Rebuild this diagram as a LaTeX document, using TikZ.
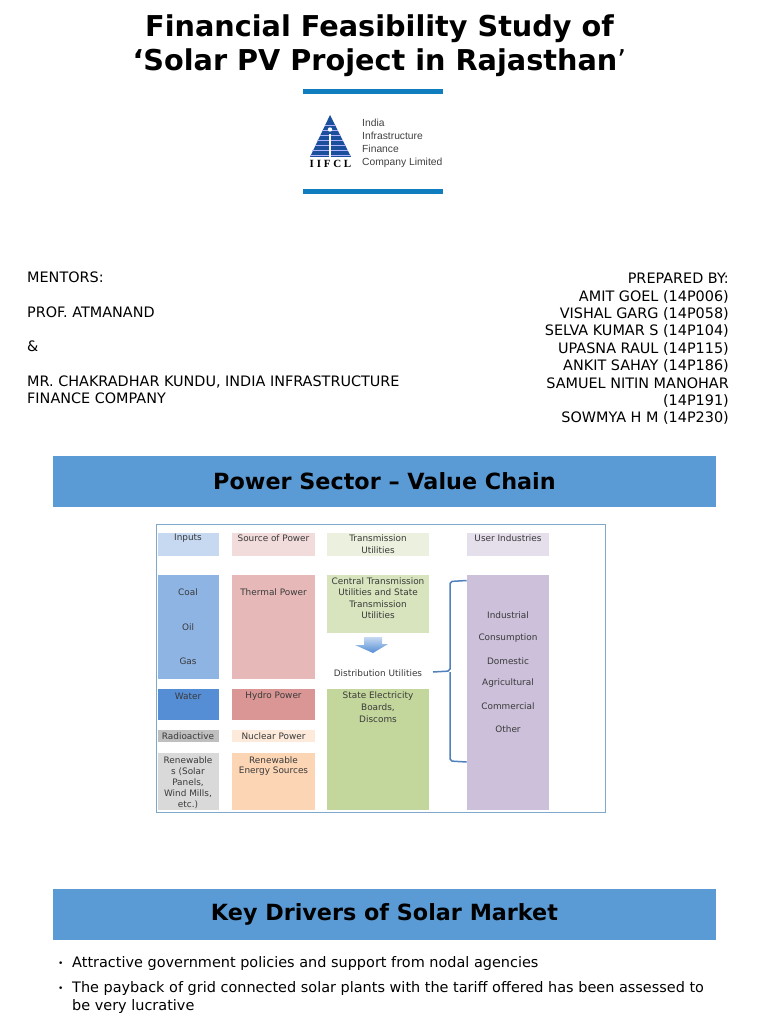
\documentclass[tikz,border=0pt]{standalone}
\usepackage{fontspec}
\setmainfont{DejaVu Sans}
\newfontfamily\logofont{Liberation Serif}
\newfontfamily\logosans{Liberation Sans}
\usetikzlibrary{positioning}
\definecolor{barblue}{HTML}{0F7DBE}
\definecolor{headblue}{HTML}{5B9BD5}
\definecolor{framecol}{HTML}{7FA8CC}
\definecolor{bracecol}{HTML}{4F81BD}
\definecolor{txtcol}{HTML}{3A3A3A}
\definecolor{logoblue}{HTML}{1A4F9C}
\definecolor{cinputs}{HTML}{C6D9F1}
\definecolor{csource}{HTML}{F2DCDB}
\definecolor{ctransm}{HTML}{EBF1DE}
\definecolor{cusers}{HTML}{E5DFEC}
\definecolor{cfuels}{HTML}{8EB4E3}
\definecolor{cthermal}{HTML}{E6B9B8}
\definecolor{ccentral}{HTML}{D7E4BD}
\definecolor{cwater}{HTML}{558ED5}
\definecolor{chydro}{HTML}{D99694}
\definecolor{cradio}{HTML}{BFBFBF}
\definecolor{cnuclear}{HTML}{FDEADA}
\definecolor{crenew}{HTML}{D9D9D9}
\definecolor{cresource}{HTML}{FCD5B5}
\definecolor{cstate}{HTML}{C3D69B}
\definecolor{cusage}{HTML}{CCC0DA}
\tikzset{
  cell/.style={inner sep=0pt,outer sep=0pt,anchor=north west},
  celltxt/.style={text=txtcol,font=\fontsize{8.9}{9}\selectfont,inner sep=0pt},
  title/.style={font=\fontsize{28.7}{34.5}\selectfont\bfseries,align=center},
  head/.style={fill=headblue,minimum width=663pt,minimum height=51pt,inner sep=0pt,font=\fontsize{22.3}{26}\selectfont\bfseries},
  body/.style={font=\fontsize{14.4}{17.4}\selectfont,inner sep=0pt},
  bullet/.style={font=\fontsize{14.45}{17.5}\selectfont,inner sep=0pt,anchor=base west},
  logotxt/.style={font=\logosans\fontsize{10.3}{13.1}\selectfont,text=black!75,inner sep=0pt,align=left}
}
% a box given by left, top, width, height, colour, name
\newcommand{\cellbox}[6]{\node[cell,fill=#5,minimum width=#3pt,minimum height=#4pt] (#6) at (#1,#2) {};}
\begin{document}
\begin{tikzpicture}[x=1pt,y=-1pt]
\useasboundingbox (0,0) rectangle (768,1024);
\clip (0,0) rectangle (768,1024);
% title
\node[title] (maintitle) at (379.5,45.5) {Financial Feasibility Study of\\‘Solar PV Project in Rajasthan{\mdseries ’}};
% logo
\fill[barblue] (303,89) rectangle (443,94.5);
\fill[barblue] (303,189) rectangle (443,194.5);
\fill[logoblue] (330,115) -- (351,157) -- (310,157) -- cycle;
\foreach \yy in {125,130,...,155} {
  \draw[blue!30!white,line width=0.6pt] (330-\yy/2+57.5-0.5,\yy) -- (330+\yy/2-57.5+0.5,\yy);
}
\fill[white] (330,129.5) circle (2.2);
\fill[white] (328.7,134) rectangle (331.3,157);
\node[font=\logofont\fontsize{11}{11}\selectfont\bfseries,inner sep=0pt] (logoabbr) at (330.5,163.5) {I I F C L};
\node[logotxt,anchor=north west] (logoname) at (362,118.5) {India\\Infrastructure\\Finance\\Company Limited};
% people
\node[body,anchor=north west,align=left] (mentors) at (27,272) {MENTORS:\\[17.1pt]PROF. ATMANAND\\[17.1pt]\&\\[17.1pt]MR. CHAKRADHAR KUNDU, INDIA INFRASTRUCTURE\\FINANCE COMPANY};
\node[body,anchor=north east,align=right] (prepared) at (729,273) {PREPARED BY:\\AMIT GOEL (14P006)\\VISHAL GARG (14P058)\\SELVA KUMAR S (14P104)\\UPASNA RAUL (14P115)\\ANKIT SAHAY (14P186)\\SAMUEL NITIN MANOHAR\\(14P191)\\SOWMYA H M (14P230)};
% value chain
\node[head] (valuehead) at (384.5,481.5) {Power Sector – Value Chain};
\draw[framecol,line width=0.9pt,fill=white] (156,524) rectangle (605,812.5);
\cellbox{157.5}{532.5}{61.5}{23}{cinputs}{inputs}
\cellbox{232}{532.5}{83}{23}{csource}{source}
\cellbox{327}{532.5}{102}{23}{ctransm}{transm}
\cellbox{466.7}{532.5}{82.3}{23}{cusers}{users}
\cellbox{157.5}{574.7}{61.5}{104}{cfuels}{fuels}
\cellbox{232}{574.7}{83}{104}{cthermal}{thermal}
\cellbox{327}{574.7}{102}{58}{ccentral}{central}
\cellbox{157.5}{689}{61.5}{31}{cwater}{water}
\cellbox{232}{689}{83}{31}{chydro}{hydro}
\cellbox{157.5}{730}{61.5}{12}{cradio}{radio}
\cellbox{232}{730}{83}{12}{cnuclear}{nuclear}
\cellbox{157.5}{753}{61.5}{57}{crenew}{renew}
\cellbox{232}{753}{83}{57}{cresource}{resources}
\cellbox{327}{689}{102}{121}{cstate}{state}
\cellbox{466.7}{574.7}{82.3}{235.3}{cusage}{usage}
% labels in the boxes
\foreach \xx/\yy/\lbl [count=\ii] in {188/538.5/Inputs,273.5/538.5/Source of Power,378/538.5/Transmission,378/550/Utilities,508/538.5/User Industries,
  188/592/Coal,188/627/Oil,188/661/Gas,273.5/592/Thermal Power,188/696/Water,273.5/696/Hydro Power,188/736.5/Radioactive,273.5/736.5/Nuclear Power,
  188/760/Renewable,188/771.5/s (Solar,188/783/{Panels,},188/794/{Wind Mills,},188/805/etc.),273.5/760/Renewable,273.5/771.5/Energy Sources,
  378/581/Central Transmission,378/592.5/Utilities and State,378/604/Transmission,378/615.5/Utilities,378/673.5/Distribution Utilities,
  378/696/State Electricity,378/707.5/{Boards,},378/719/Discoms,
  508/615/Industrial,508/638/Consumption,508/661/Domestic,508/683.5/Agricultural,508/706/Commercial,508/729.5/Other}
  \node[celltxt] (lbl\ii) at (\xx,\yy) {\lbl};
% arrow and brace
\shade[top color=cinputs,bottom color=cwater] (364,637) -- (382,637) -- (382,644) -- (388,644) -- (373,653) -- (355,645) -- (364,645) -- cycle;
\coordinate (bracetop) at (466.7,580.5);
\coordinate (bracelow) at (466.7,762);
\coordinate (bracetip) at (433,672);
\draw[bracecol,line width=1.5pt,rounded corners=2pt] (bracetop) -- (450,581.5) -- (450,671) -- (bracetip);
\draw[bracecol,line width=1.5pt,rounded corners=2pt] (bracelow) -- (450,761) -- (450,672);
% key drivers
\node[head] (drivershead) at (384.5,914.5) {Key Drivers of Solar Market};
\node[bullet] (dotone) at (58,966) {\fontsize{9}{9}\selectfont•};
\node[bullet] (lineone) at (72,967) {Attractive government policies and support from nodal agencies};
\node[bullet] (dottwo) at (58,991) {\fontsize{9}{9}\selectfont•};
\node[bullet] (linetwo) at (72,992) {The payback of grid connected solar plants with the tariff offered has been assessed to};
\node[bullet] (linethree) at (72,1010) {be very lucrative};
\end{tikzpicture}
\end{document}
